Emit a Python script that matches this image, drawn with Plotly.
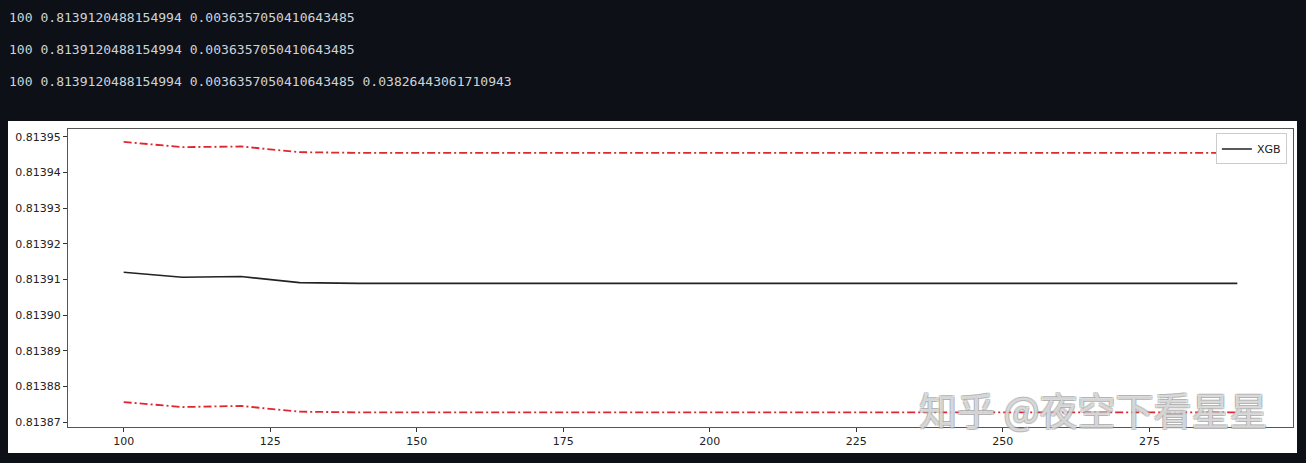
import plotly.graph_objects as go

# n_estimators tested
n_est = [100, 110, 120, 130, 140, 150, 160, 170, 180, 190,
         200, 210, 220, 230, 240, 250, 260, 270, 280, 290]

# mean score (XGB) and mean +/- spread
score_mean = [0.8139120, 0.8139106, 0.8139108, 0.8139091, 0.8139089,
              0.8139089, 0.8139089, 0.8139089, 0.8139089, 0.8139089,
              0.8139089, 0.8139089, 0.8139089, 0.8139089, 0.8139089,
              0.8139089, 0.8139089, 0.8139089, 0.8139089, 0.8139089]
score_upper = [0.8139486, 0.8139471, 0.8139473, 0.8139457, 0.8139455,
               0.8139455, 0.8139455, 0.8139455, 0.8139455, 0.8139455,
               0.8139455, 0.8139455, 0.8139455, 0.8139455, 0.8139455,
               0.8139455, 0.8139455, 0.8139455, 0.8139455, 0.8139455]
score_lower = [0.8138756, 0.8138742, 0.8138745, 0.8138729, 0.8138727,
               0.8138727, 0.8138727, 0.8138727, 0.8138727, 0.8138727,
               0.8138727, 0.8138727, 0.8138727, 0.8138727, 0.8138727,
               0.8138727, 0.8138727, 0.8138727, 0.8138727, 0.8138727]

# console output printed above the figure
console_lines = [
    "100 0.8139120488154994 0.0036357050410643485",
    "100 0.8139120488154994 0.0036357050410643485",
    "100 0.8139120488154994 0.0036357050410643485 0.03826443061710943",
]

x_ticks = [100, 125, 150, 175, 200, 225, 250, 275]
y_ticks = [0.81387, 0.81388, 0.81389, 0.81390, 0.81391, 0.81392, 0.81393, 0.81394, 0.81395]

W, H = 1306, 463
L, R, T, B = 68, 13, 129, 36
pw, ph = W - L - R, H - T - B

def px_x(p):
    return (p - L) / pw

def px_y(p):
    return (H - B - p) / ph

fig = go.Figure()

fig.add_trace(go.Scatter(x=n_est, y=score_mean, mode="lines", name="XGB",
                         line=dict(color="#222222", width=1.6)))
fig.add_trace(go.Scatter(x=n_est, y=score_upper, mode="lines", showlegend=False,
                         line=dict(color="#e0262f", width=1.8, dash="8px,3px,2px,3px")))
fig.add_trace(go.Scatter(x=n_est, y=score_lower, mode="lines", showlegend=False,
                         line=dict(color="#e0262f", width=1.8, dash="8px,3px,2px,3px")))

# white figure panel on the dark notebook background
fig.add_shape(type="rect", xref="paper", yref="paper", layer="below",
              x0=px_x(8), x1=px_x(1297), y0=px_y(453), y1=px_y(121),
              fillcolor="white", line=dict(width=0))

for i, txt in enumerate(console_lines):
    fig.add_annotation(text=txt, xref="paper", yref="paper",
                       x=px_x(7), y=px_y(18 + i * 31.5), xanchor="left", yanchor="middle",
                       showarrow=False,
                       font=dict(family="DejaVu Sans Mono", size=13.05, color="#cfd3d9"))

# watermark
fig.add_annotation(text="知乎 @夜空下看星星", xref="paper", yref="paper",
                   x=px_x(1093), y=px_y(408), xanchor="center", yanchor="middle",
                   showarrow=False,
                   font=dict(family="Noto Sans CJK SC", size=38, color="rgba(255,255,255,0.55)",
                             shadow="1px 1px 0 #a0a0a0, -1px -1px 0 #a0a0a0, 1px -1px 0 #a0a0a0, -1px 1px 0 #a0a0a0"))

axis_common = dict(showgrid=False, zeroline=False, showline=True, mirror=True,
                   linecolor="#555555", linewidth=1, ticks="outside", ticklen=4,
                   tickcolor="#333333", tickfont=dict(family="DejaVu Sans", size=11, color="#222222"))

fig.update_xaxes(range=[90.5, 299.5], tickvals=x_ticks, **axis_common)
fig.update_yaxes(range=[0.8138686, 0.8139522], tickvals=y_ticks, tickformat=".5f", **axis_common)

fig.update_layout(
    width=W, height=H,
    margin=dict(l=L, r=R, t=T, b=B),
    paper_bgcolor="#0d1117",
    plot_bgcolor="white",
    legend=dict(x=0.995, y=0.985, xanchor="right", yanchor="top",
                bgcolor="white", bordercolor="#cccccc", borderwidth=1,
                font=dict(family="DejaVu Sans", size=11, color="#222222"),
                itemwidth=30),
)

fig.write_html("out.html", config={"displayModeBar": False},
               post_script="document.body.style.margin='0';document.body.style.background='#0d1117';")
